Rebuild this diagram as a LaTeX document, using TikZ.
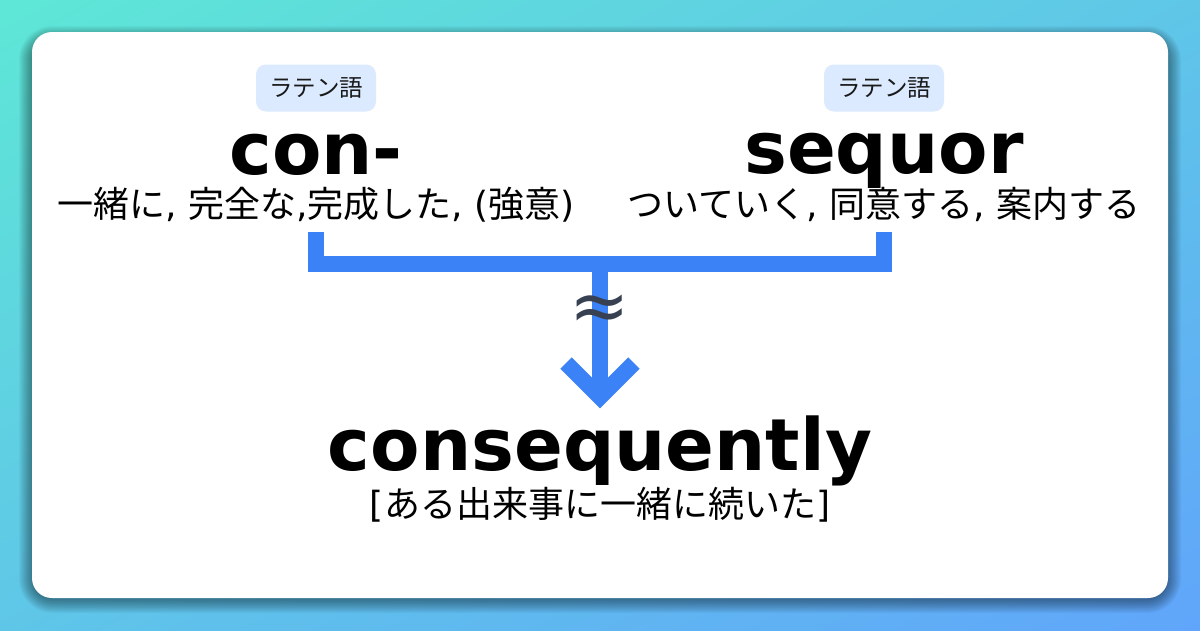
\documentclass[tikz,border=0pt]{standalone}
\usepackage{fontspec}
\usetikzlibrary{shadings}
\setmainfont{DejaVu Sans}
\newfontfamily\cjk{Noto Sans CJK JP}
\definecolor{bgtl}{RGB}{94,231,214}
\definecolor{bgbr}{RGB}{96,165,250}
\definecolor{bgmid}{RGB}{95,198,232}
\definecolor{conn}{RGB}{59,130,246}
\definecolor{badge}{RGB}{219,234,254}
\definecolor{approx}{RGB}{55,65,81}
\tikzset{
  bigword/.style={anchor=base, font=\fontsize{72}{80}\selectfont\bfseries, text=black, inner sep=0},
  gloss/.style={anchor=base, font=\fontsize{36}{40}\selectfont, text=black, inner sep=0},
  tagbox/.style={fill=badge, rounded corners=10, minimum width=120, minimum height=47, inner sep=0, font=\fontsize{23.5}{26}\selectfont\cjk, text=black!90},
  connline/.style={draw=conn, line width=16, line join=miter, line cap=butt},
}
\begin{document}
\begin{tikzpicture}[x=1pt, y=-1pt]
\useasboundingbox (0,0) rectangle (1200,630);
\shade[upper left=bgtl, lower right=bgbr, upper right=bgmid, lower left=bgmid] (0,0) rectangle (1200,630);
% shadow
\foreach \i in {1,...,14}{
  \fill[black, opacity=0.03, rounded corners=20+\i] (32-\i+1,32-\i+8) rectangle (1168+\i-1,598+\i+1);
}
\fill[white, rounded corners=20] (32,32) rectangle (1168,598);

% badges
\node[tagbox] (tagL) at (316,88) {ラテン語};
\node[tagbox] (tagR) at (884,88) {ラテン語};

% words
\node[bigword] (con) at (316,174) {con-};
\node[bigword] (sequor) at (884,173) {sequor};
\node[gloss] (conG) at (316,217) {{\cjk 一緒に}, {\cjk 完全な},{\cjk 完成した}, ({\cjk 強意})};
\node[gloss] (seqG) at (884,217) {{\cjk ついていく}, {\cjk 同意する}, {\cjk 案内する}};

% connector
\coordinate (ltop) at (316,232);
\coordinate (rtop) at (884,232);
\coordinate (junction) at (600,264);
\coordinate (tip) at (600,397);
\coordinate (armL) at (566,363);
\coordinate (armR) at (634,363);
\draw[connline] (ltop) |- (junction) -| (rtop);
\draw[connline] (junction) -- (tip);
\draw[connline] (armL) -- (tip) -- (armR);
\node[font=\fontsize{72}{76}\selectfont, text=approx, inner sep=0] (approxsign) at (600,313) {≈};

% result
\node[bigword] (result) at (600,470) {consequently};
\node[gloss] (resG) at (600,517) {[{\cjk ある出来事に一緒に続いた}]};
\end{tikzpicture}
\end{document}
